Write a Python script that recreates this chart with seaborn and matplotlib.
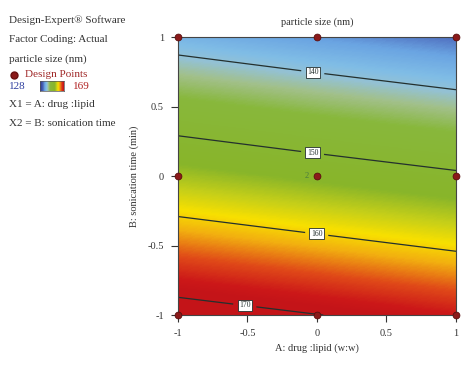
import numpy as np
import matplotlib
matplotlib.use("Agg")
import matplotlib.pyplot as plt
import seaborn as sns
from matplotlib.colors import LinearSegmentedColormap
from matplotlib.lines import Line2D

# factor levels (coded)
a_levels = [-1, 0, 1]
b_levels = [-1, 0, 1]
# predicted particle size (nm) at the factor grid, rows = B levels (-1, 0, 1)
size_grid = [[172.2, 170.1, 167.9],
             [155.0, 152.8, 150.7],
             [137.8, 135.6, 133.5]]
contour_levels = [140, 150, 160, 170]
label_pos = [(-0.03, 0.75), (-0.03, 0.18), (0.0, -0.40), (-0.52, -0.935)]

# design points
design_a = [-1, 0, 1, -1, 0, 1, -1, 0, 1]
design_b = [1, 1, 1, 0, 0, 0, -1, -1, -1]
center_reps = "2"
size_min, size_max = 128, 169
ticks = [-1, -0.5, 0, 0.5, 1]
tick_labels = ["-1", "-0.5", "0", "0.5", "1"]

sns.set_theme(style="white")
plt.rcParams['font.family'] = ['Liberation Serif', 'DejaVu Serif']

cmap = LinearSegmentedColormap.from_list("de", [
    (0.00, "#2a3590"),
    (0.12, "#4a64b8"),
    (0.19, "#6aa4e2"),
    (0.26, "#80bde6"),
    (0.30, "#94c2d4"),
    (0.35, "#a2c08a"),
    (0.42, "#88b83c"),
    (0.62, "#88b52a"),
    (0.70, "#c8d018"),
    (0.76, "#f8e000"),
    (0.82, "#f2b010"),
    (0.90, "#e04a18"),
    (0.97, "#cc1818"),
    (1.00, "#c41418"),
])

fig = plt.figure(figsize=(4.74, 3.72), dpi=100)
ax = fig.add_axes([0.3755, 0.153, 0.5865, 0.747])

z = np.array(size_grid)
ax.imshow(z, origin="lower", extent=[-1.5, 1.5, -1.5, 1.5], cmap=cmap,
          vmin=size_min, vmax=size_max, interpolation="bilinear", aspect="auto")
cs = ax.contour(a_levels, b_levels, z, levels=contour_levels, colors="#24302e",
                linewidths=0.9)
lbls = ax.clabel(cs, fmt="%d", fontsize=5.5, manual=label_pos, inline=True,
                 inline_spacing=2)
for t in lbls:
    t.set_bbox(dict(boxstyle="square,pad=0.2", fc="white", ec="#24302e", lw=0.6))
    t.set_rotation(0)

sns.scatterplot(x=design_a, y=design_b, ax=ax, color="#8b1a1a", s=24,
                edgecolor="#5a0e0e", linewidth=0.6, zorder=5, clip_on=False,
                legend=False)
ax.text(-0.06, 0, center_reps, fontsize=6, color="#4a7a40", ha="right", va="center")

ax.set_xlim(-1, 1)
ax.set_ylim(-1, 1)
ax.set_xticks(ticks)
ax.set_xticklabels(tick_labels)
ax.set_yticks(ticks)
ax.set_yticklabels(tick_labels)
ax.tick_params(direction="out", length=5, width=0.8, labelsize=7.5, pad=5,
               bottom=True, left=True, colors="#333333")
for sp in ax.spines.values():
    sp.set_color("#444444")
    sp.set_linewidth(0.8)
ax.set_xlabel("A: drug :lipid (w:w)", fontsize=7.5, labelpad=4, color="#333333")
ax.set_ylabel("B: sonication time (min)", fontsize=7.5, labelpad=6, color="#333333")
ax.set_title("particle size (nm)", fontsize=7.5, pad=9, color="#333333")

# left information block
tx = 0.018
fig.text(tx, 0.945, "Design-Expert\u00ae Software", fontsize=8, color="#333333", va="center")
fig.text(tx, 0.893, "Factor Coding: Actual", fontsize=8, color="#333333", va="center")
fig.text(tx, 0.840, "particle size (nm)", fontsize=8, color="#333333", va="center")
fig.add_artist(Line2D([0.03], [0.799], marker="o", markersize=5, linestyle="none",
                      markerfacecolor="#8b1a1a", markeredgecolor="#6a1010",
                      transform=fig.transFigure))
fig.text(0.052, 0.799, "Design Points", fontsize=8, color="#a02828", va="center")
fig.text(tx, 0.768, str(size_min), fontsize=8, color="#3040a0", va="center")
cax = fig.add_axes([0.085, 0.755, 0.05, 0.028])
cax.imshow(np.linspace(0, 1, 100)[None, :], cmap=cmap, aspect="auto")
cax.set_xticks([])
cax.set_yticks([])
for sp in cax.spines.values():
    sp.set_color("#555555")
    sp.set_linewidth(0.5)
fig.text(0.155, 0.768, str(size_max), fontsize=8, color="#b02020", va="center")
fig.text(tx, 0.720, "X1 = A: drug :lipid", fontsize=8, color="#333333", va="center")
fig.text(tx, 0.668, "X2 = B: sonication time", fontsize=8, color="#333333", va="center")

fig.savefig("out.png", dpi=100)
